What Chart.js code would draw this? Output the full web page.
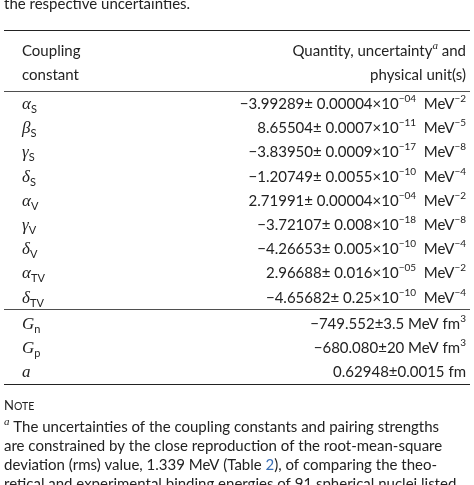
<!DOCTYPE html><html><head><meta charset="utf-8">
<script src="https://cdn.jsdelivr.net/npm/chart.js@4.4.0/dist/chart.umd.min.js"></script>
<style>body{margin:0;background:#fff}canvas{display:block}</style></head><body>
<canvas id="c" width="474" height="485"></canvas>
<script>
const symbols=[["α","S"],["β","S"],["γ","S"],["δ","S"],["α","V"],["γ","V"],["δ","V"],["α","TV"],["δ","TV"]];
const values=["−3.99289","8.65504","−3.83950","−1.20749","2.71991","−3.72107","−4.26653","2.96688","−4.65682"];
const uncert=["0.00004","0.0007","0.0009","0.0055","0.00004","0.008","0.005","0.016","0.25"];
const exps=["−04","−11","−17","−10","−04","−18","−10","−05","−10"];
const unitExps=["−2","−5","−8","−4","−2","−8","−4","−2","−4"];
const pairSyms=[["G","n"],["G","p"],["a",""]];
const pairVals=["−749.552±3.5 MeV fm","−680.080±20 MeV fm","0.62948±0.0015 fm"];
const pairExps=["3","3",""];
const noteLines=["The uncertainties of the coupling constants and pairing strengths","are constrained by the close reproduction of the root-mean-square","deviation (rms) value, 1.339 MeV (Table 2), of comparing the theo-","retical and experimental binding energies of 91 spherical nuclei listed"];
const F="Lato",S="Liberation Serif";
function seg(ctx,parts,x,y,align){
  const fonts={n:`15px ${F}`,i:`italic 17px ${S}`,sup:`10px ${F}`,sub:`11px ${F}`,si:`italic 11px ${S}`};
  const off={n:0,i:0,sup:-7,sub:4,si:-7};
  let w=0;parts.forEach(p=>{ctx.font=fonts[p[1]];w+=ctx.measureText(p[0]).width;});
  let cx=align==="right"?x-w:x;
  parts.forEach(p=>{ctx.font=fonts[p[1]];ctx.fillStyle=p[2]||"#222";ctx.fillText(p[0],cx,y+off[p[1]]);cx+=ctx.measureText(p[0]).width;});
}
const tablePlugin={id:"tbl",afterDraw(chart){
  const ctx=chart.ctx;ctx.save();ctx.textBaseline="alphabetic";
  const L=4,R=470,RX=466;
  ctx.strokeStyle="#222";ctx.lineWidth=1;
  [[30.5,1.2],[91.5,0.8],[309.5,0.8],[384.5,1.2]].forEach(([y,lw])=>{ctx.lineWidth=lw;ctx.beginPath();ctx.moveTo(L,y);ctx.lineTo(R,y);ctx.stroke();});
  seg(ctx,[["the respective uncertainties.","n"]],4,9);
  seg(ctx,[["Coupling","n"]],22,56);seg(ctx,[["constant","n"]],22,80);
  seg(ctx,[["Quantity, uncertainty","n"],["a","si"],[" and","n"]],RX,56,"right");
  seg(ctx,[["physical unit(s)","n"]],RX,80,"right");
  symbols.forEach((s,i)=>{
    const y=109+i*24.2;
    seg(ctx,[[s[0],"i"],[s[1],"sub"]],22,y);
    seg(ctx,[[values[i]+"± "+uncert[i]+"×10","n"],[exps[i],"sup"],["  MeV","n"],[unitExps[i],"sup"]],RX,y,"right");
  });
  pairSyms.forEach((s,i)=>{
    const y=329+i*24;
    seg(ctx,[[s[0],"i"],[s[1],"sub"]],22,y);
    const p=[[pairVals[i],"n"]];if(pairExps[i])p.push([pairExps[i],"sup"]);
    seg(ctx,p,RX,y,"right");
  });
  ctx.font=`13px ${F}`;ctx.fillStyle="#222";ctx.fillText("N",4,410);ctx.font=`10.5px ${F}`;ctx.fillText("OTE",14,410);
  seg(ctx,[["a","si"],[" The uncertainties of the coupling constants and pairing strengths","n"]],4,432);
  const t=[noteLines[1],noteLines[2],noteLines[3]];
  seg(ctx,[[t[0],"n"]],4,451);
  seg(ctx,[["deviation (rms) value, 1.339 MeV (Table ","n"],["2","n","#3a6fb5"],["), of comparing the theo-","n"]],4,470);
  seg(ctx,[[t[2],"n"]],4,489);
  ctx.restore();
}};
new Chart(document.getElementById("c"),{type:"scatter",data:{datasets:[{data:[]}]},
options:{responsive:false,animation:false,plugins:{legend:{display:false},tooltip:{enabled:false}},
scales:{x:{display:false},y:{display:false}}},plugins:[tablePlugin]});
</script></body></html>
